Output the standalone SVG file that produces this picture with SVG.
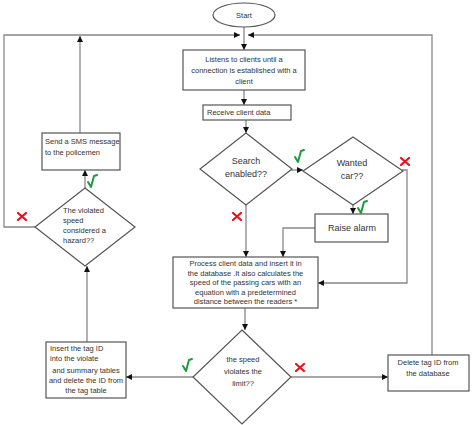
<svg xmlns="http://www.w3.org/2000/svg" width="474" height="425" viewBox="0 0 474 425">
<defs>
<marker id="ah" viewBox="0 0 8 8" refX="8" refY="4" markerWidth="6" markerHeight="6" orient="auto" markerUnits="userSpaceOnUse">
<path d="M0,0 L8,4 L0,8 Z" fill="#111"/>
</marker>
<style>
.box{fill:#fff;stroke:#555;stroke-width:1.2}
.c{fill:none;stroke:#888;stroke-width:1.3;marker-end:url(#ah)}
.cn{fill:none;stroke:#888;stroke-width:1.3}
text{font-family:"Liberation Sans",Arial,sans-serif;font-size:7.5px;fill:#333}
.m{text-anchor:middle}
.ok{fill:none;stroke:#1a9e3a;stroke-width:2;stroke-linecap:round;stroke-linejoin:round}
.no{fill:none;stroke:#e8101a;stroke-width:2.2;stroke-linecap:round}
</style>
</defs>
<rect width="474" height="425" fill="#fff"/>
<g id="connectors">
<path class="c" d="M244,27 V50"/>
<path class="c" d="M35,227 H4 V35 H240"/>
<path class="c" d="M432,355 V35 H248"/>
<path class="c" d="M80,133 V36"/>
<path class="c" d="M244,90 V105"/>
<path class="c" d="M246,120 V133"/>
<path class="c" d="M290,170 H303"/>
<path class="c" d="M353,205 V214"/>
<path class="c" d="M402,170 H407 V283 H318"/>
<path class="c" d="M315,228 H283 V257"/>
<path class="c" d="M246,205 V257"/>
<path class="c" d="M245,308 V330"/>
<path class="c" d="M291,377 H388"/>
<path class="c" d="M193,377 H126"/>
<path class="c" d="M87,342 V266"/>
<path class="c" d="M85,188 V170"/>
</g>
<g id="start">
<ellipse cx="244" cy="15" rx="31" ry="12" class="box"/>
<text x="244" y="18" class="m">Start</text>
</g>
<g id="listen">
<rect x="183" y="50" width="122" height="40" class="box"/>
<text x="244" y="62" class="m">Listens to clients until a</text>
<text x="244" y="73" class="m">connection is established with a</text>
<text x="244" y="84" class="m">client</text>
</g>
<g id="receive">
<rect x="203" y="105" width="88" height="15" class="box"/>
<text x="207" y="115">Receive client data</text>
</g>
<g id="search">
<polygon points="246,133 292,169 246,205 200,169" class="box"/>
<text x="246" y="164" class="m" style="font-size:9px">Search</text>
<text x="246" y="177" class="m" style="font-size:9px">enabled??</text>
</g>
<g id="wanted">
<polygon points="353,137 403,171 353,205 303,171" class="box"/>
<text x="352" y="166" class="m" style="font-size:9px">Wanted</text>
<text x="352" y="179" class="m" style="font-size:9px">car??</text>
</g>
<g id="raise">
<rect x="315" y="214" width="73" height="28" class="box"/>
<text x="352" y="231" class="m" style="font-size:9px">Raise alarm</text>
</g>
<g id="process">
<rect x="173" y="257" width="145" height="51" class="box"/>
<text x="245.5" y="266" class="m">Process client data and insert it in</text>
<text x="245.5" y="275.5" class="m">the database .It also calculates the</text>
<text x="245.5" y="285" class="m">speed of the passing cars with an</text>
<text x="245.5" y="294.5" class="m">equation with a predetermined</text>
<text x="245.5" y="304" class="m">distance between the readers *</text>
</g>
<g id="speed">
<polygon points="242,330 291,377 242,424 193,377" class="box"/>
<text x="243" y="362" class="m">the speed</text>
<text x="243" y="374" class="m">violates the</text>
<text x="243" y="386" class="m">limit??</text>
</g>
<g id="delete">
<rect x="388" y="355" width="81" height="36" class="box"/>
<text x="428" y="365" class="m">Delete tag ID from</text>
<text x="428" y="376" class="m">the database</text>
</g>
<g id="insert">
<rect x="46" y="342" width="80" height="56" class="box"/>
<text x="50" y="351">Insert the tag ID</text>
<text x="50" y="361">into the violate</text>
<text x="86" y="373" class="m">and summary tables</text>
<text x="86" y="383" class="m">and delete the ID from</text>
<text x="86" y="393" class="m">the tag table</text>
</g>
<g id="hazard">
<polygon points="85,188 135,227 85,266 35,227" class="box"/>
<text x="63" y="213">The violated</text>
<text x="63" y="223">speed</text>
<text x="63" y="233">considered a</text>
<text x="63" y="243">hazard??</text>
</g>
<g id="sms">
<rect x="42" y="133" width="78" height="37" class="box"/>
<text x="45" y="144">Send a SMS message</text>
<text x="45" y="155">to the policemen</text>
</g>
<g id="marks">
<path class="ok" d="M295,157 L298,162 L301,151 L304,150"/>
<path class="ok" d="M358,208 L361,213 L364,202 L367,201"/>
<path class="ok" d="M88,182 L91,187 L94,176 L97,175"/>
<path class="ok" d="M183,366 L186,371 L189,360 L192,359"/>
<path class="no" d="M401,158 L409,165 M409,158 L401,165"/>
<path class="no" d="M233,213 L241,220 M241,213 L233,220"/>
<path class="no" d="M18,213 L26,220 M26,213 L18,220"/>
<path class="no" d="M296,364 L304,371 M304,364 L296,371"/>
</g>
</svg>
